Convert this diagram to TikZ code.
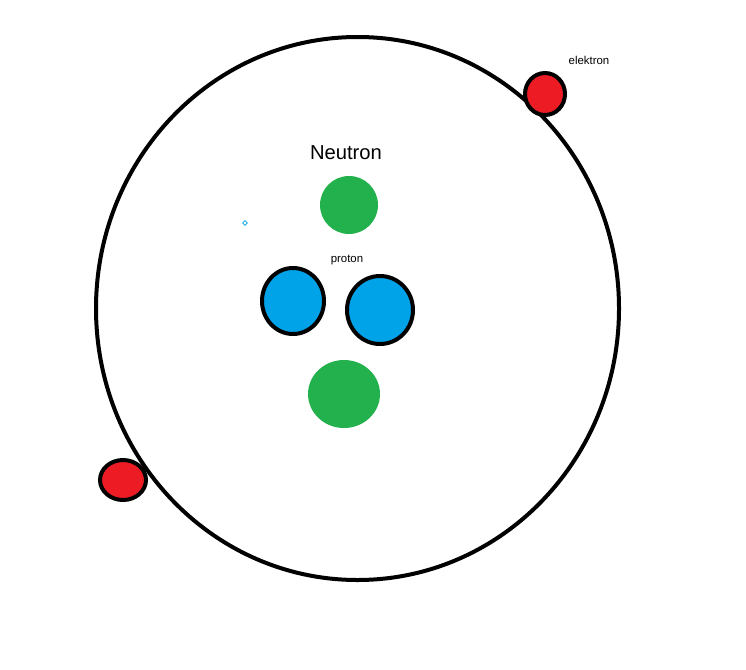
\documentclass[tikz,border=0pt]{standalone}
\usepackage{fontspec}
\setmainfont{Liberation Sans}
\usetikzlibrary{shapes.geometric}
\definecolor{ered}{HTML}{ED1C24}
\definecolor{ngreen}{HTML}{22B14C}
\definecolor{pblue}{HTML}{00A2E8}
\begin{document}
\begin{tikzpicture}[x=0.02cm,y=-0.02cm,
  particle/.style={ellipse,draw=black,line width=0.08cm,inner sep=0pt},
  electron/.style={particle,fill=ered},
  protonball/.style={particle,fill=pblue},
  neutronball/.style={ellipse,fill=ngreen,inner sep=0pt},
  lbl/.style={inner sep=0pt,font=\fontsize{6.5}{8}\selectfont}]
\useasboundingbox (0,0) rectangle (746,669);
\node[ellipse,draw=black,line width=0.08cm,minimum width=523*0.02cm,minimum height=543*0.02cm,inner sep=0pt] (orbit) at (357.5,308.5) {};
\node[electron,minimum width=40*0.02cm,minimum height=42*0.02cm] (e1) at (545,94) {};
\node[electron,minimum width=46*0.02cm,minimum height=40*0.02cm] (e2) at (123,480) {};
\node[neutronball,minimum width=58*0.02cm,minimum height=58*0.02cm] (n1) at (349,205) {};
\node[neutronball,minimum width=72*0.02cm,minimum height=68*0.02cm] (n2) at (344,394) {};
\node[protonball,minimum width=62*0.02cm,minimum height=66*0.02cm] (p1) at (293,301) {};
\node[protonball,minimum width=66*0.02cm,minimum height=68*0.02cm] (p2) at (380,310) {};
\node[diamond,draw=pblue,line width=0.4pt,minimum size=0.1cm,inner sep=0pt] (dot) at (245,223) {};
\node[inner sep=0pt,font=\fontsize{11.5}{13}\selectfont] (tn) at (346,153) {Neutron};
\node[lbl] (tp) at (347,260) {proton};
\node[lbl] (te) at (589,60) {elektron};
\end{tikzpicture}
\end{document}
